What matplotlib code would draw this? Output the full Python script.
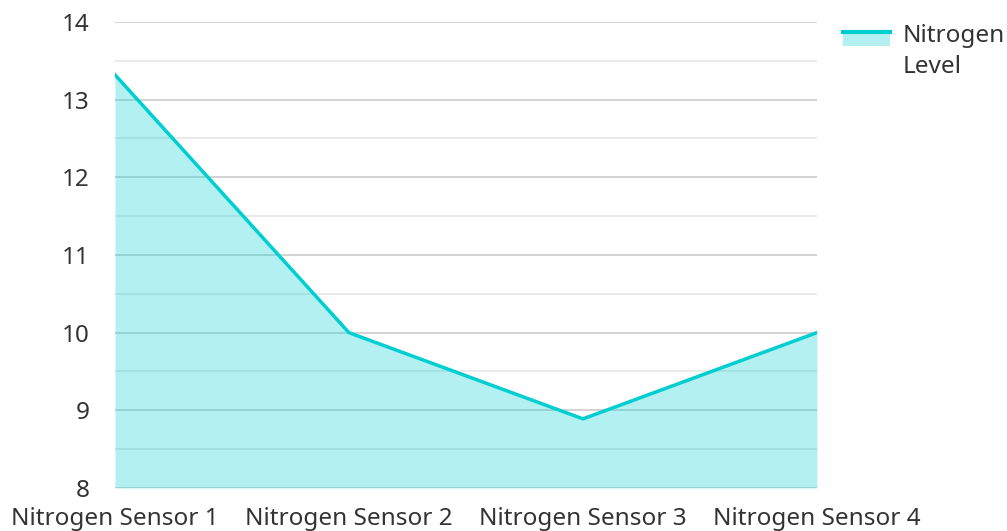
import matplotlib.pyplot as plt
from matplotlib.lines import Line2D
from matplotlib.patches import Rectangle
from matplotlib.legend_handler import HandlerBase

sensors = ["Nitrogen Sensor 1", "Nitrogen Sensor 2", "Nitrogen Sensor 3", "Nitrogen Sensor 4"]
nitrogen_level = [13.32, 10.0, 8.89, 10.0]
y_ticks = [8, 9, 10, 11, 12, 13, 14]

line_color = "#00ced1"
fill_color = "#00ced1"

plt.rcParams['font.family'] = ['Noto Sans', 'DejaVu Sans']


class AreaHandler(HandlerBase):
    # patch with the line along its top edge, raised a little against the text
    def create_artists(self, legend, orig_handle, xdescent, ydescent, width, height, fontsize, trans):
        y0 = -ydescent + 9
        patch = Rectangle((-xdescent, y0), width, height, facecolor=fill_color,
                          alpha=0.3, edgecolor='none', transform=trans)
        line = Line2D([-xdescent, -xdescent + width], [y0 + height, y0 + height],
                      color=line_color, lw=3, transform=trans)
        return [patch, line]


fig = plt.figure(figsize=(10.07, 5.31), dpi=100)
ax = fig.add_axes([0.1142, 0.081, 0.697, 0.8776])

x = list(range(len(sensors)))
ax.fill_between(x, nitrogen_level, 8, color=fill_color, alpha=0.3, lw=0, zorder=2)
ax.plot(x, nitrogen_level, color=line_color, lw=2.5, zorder=3)

ax.set_xlim(0, len(sensors) - 1)
ax.set_ylim(8, 14)
ax.set_yticks(y_ticks)
ax.set_yticks([v + 0.5 for v in y_ticks[:-1]], minor=True)
ax.set_xticks(x)
ax.set_xticklabels(sensors)

ax.grid(axis='y', which='major', color='#cccccc', lw=1.2, zorder=1)
ax.grid(axis='y', which='minor', color='#e6e6e6', lw=1.2, zorder=1)
ax.set_axisbelow(True)
for s in ax.spines.values():
    s.set_visible(False)
ax.tick_params(axis='both', which='both', length=0, labelsize=17.5, labelcolor='#333333')
ax.tick_params(axis='y', pad=18)
ax.tick_params(axis='x', pad=14)

leg = fig.legend(handles=[Rectangle((0, 0), 1, 1)], labels=["Nitrogen\nLevel"],
                 handler_map={Rectangle: AreaHandler()},
                 loc='upper left', bbox_to_anchor=(0.837, 0.955), frameon=False,
                 borderpad=0, borderaxespad=0,
                 fontsize=17.5, handlelength=1.93, handleheight=0.5, handletextpad=0.53)
for t in leg.get_texts():
    t.set_color('#333333')
    t.set_linespacing(1.4)

fig.savefig("out.png", dpi=100)
